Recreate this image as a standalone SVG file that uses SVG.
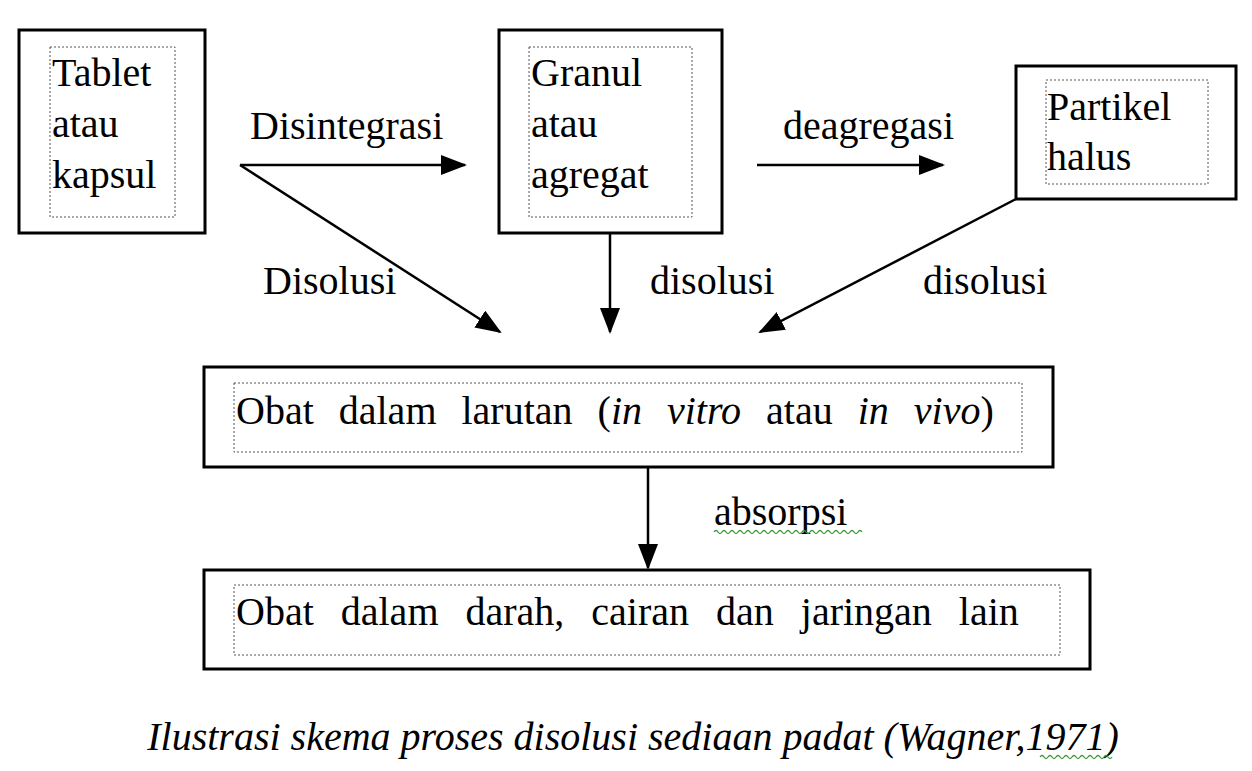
<svg xmlns="http://www.w3.org/2000/svg" width="1252" height="771" viewBox="0 0 1252 771" font-family="'Liberation Serif', 'Times New Roman', 'DejaVu Serif', serif">
<style>
.b{fill:none;stroke:#000;stroke-width:3}
.d{fill:none;stroke:#555;stroke-width:1;stroke-dasharray:2,2}
text{font-family:'Liberation Serif','Times New Roman','DejaVu Serif',serif;font-size:40px;fill:#000}
.c{stroke:#000;stroke-width:2.5;fill:none}
.w{fill:none;stroke:#3a9a3a;stroke-width:1.3}
</style>
<defs><marker id="A" markerWidth="26" markerHeight="20" refX="24" refY="10" orient="auto" markerUnits="userSpaceOnUse" viewBox="0 0 26 20"><path d="M0,0 L26,10 L0,20z"/></marker></defs>
<rect width="1252" height="771" fill="#fff"/>
<g id="tablet"><rect class="b" x="19" y="30" width="186" height="203"/><rect class="d" x="50" y="47" width="125" height="170"/>
<text x="52" y="86">Tablet</text><text x="52" y="137">atau</text><text x="52" y="188">kapsul</text></g>
<g id="granul"><rect class="b" x="499" y="30" width="223" height="203"/><rect class="d" x="529" y="47" width="163" height="170"/>
<text x="531" y="86">Granul</text><text x="531" y="137">atau</text><text x="531" y="188">agregat</text></g>
<g id="partikel"><rect class="b" x="1016" y="66" width="220" height="133"/><rect class="d" x="1046" y="80" width="162" height="104"/>
<text x="1047" y="120">Partikel</text><text x="1047" y="170">halus</text></g>
<g id="larutan"><rect class="b" x="204" y="367" width="849" height="100"/><rect class="d" x="234" y="383" width="788" height="69"/>
<text x="236" y="424" word-spacing="15">Obat dalam larutan (<tspan font-style="italic">in vitro</tspan> atau <tspan font-style="italic">in vivo</tspan>)</text></g>
<g id="darah"><rect class="b" x="204" y="570" width="886" height="99"/><rect class="d" x="234" y="585" width="826" height="70"/>
<text x="236" y="625" word-spacing="17">Obat dalam darah, cairan dan jaringan lain</text></g>
<g id="connectors">
<line class="c" x1="240" y1="165" x2="465" y2="165" marker-end="url(#A)"/>
<line class="c" x1="240" y1="165" x2="500" y2="332" marker-end="url(#A)"/>
<line class="c" x1="610" y1="233" x2="610" y2="332" marker-end="url(#A)"/>
<line class="c" x1="757" y1="165" x2="943" y2="165" marker-end="url(#A)"/>
<line class="c" x1="1016" y1="199" x2="760" y2="332" marker-end="url(#A)"/>
<line class="c" x1="648" y1="467" x2="648" y2="568" marker-end="url(#A)"/>
</g>
<g id="labels">
<text x="250" y="139">Disintegrasi</text>
<text x="783" y="139">deagregasi</text>
<text x="263" y="294">Disolusi</text>
<text x="650" y="294">disolusi</text>
<text x="923" y="294">disolusi</text>
<text x="714" y="525">absorpsi</text>
<path class="w" d="M714,532 q2,-3 4,0 t4,0 t4,0 t4,0 t4,0 t4,0 t4,0 t4,0 t4,0 t4,0 t4,0 t4,0 t4,0 t4,0 t4,0 t4,0 t4,0 t4,0 t4,0 t4,0 t4,0 t4,0 t4,0 t4,0 t4,0 t4,0 t4,0 t4,0 t4,0 t4,0 t4,0 t4,0 t4,0 t4,0 t4,0 t4,0 t4,0"/>
<text x="633" y="750" text-anchor="middle" font-style="italic" font-size="34">Ilustrasi skema proses disolusi sediaan padat (Wagner,1971)</text>
<path class="w" d="M1040,757 q2,-3 4,0 t4,0 t4,0 t4,0 t4,0 t4,0 t4,0 t4,0 t4,0 t4,0 t4,0 t4,0 t4,0 t4,0 t4,0 t4,0 t4,0 t4,0"/>
</g>
</svg>
